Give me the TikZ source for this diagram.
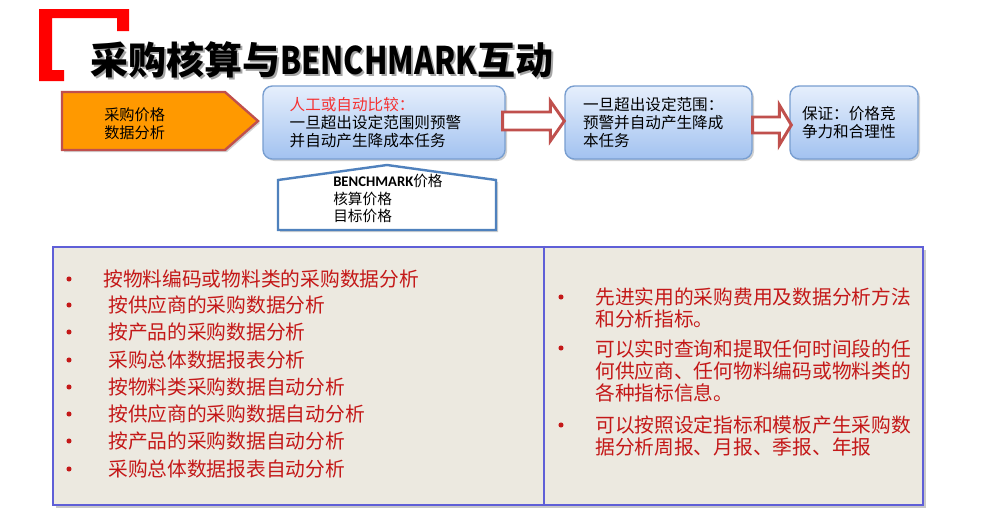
\documentclass[tikz,border=0pt]{standalone}
\usepackage{fontspec}
\usepackage{graphicx}
\setmainfont{Noto Sans CJK SC}
\newfontfamily\carlito{Carlito}
\usetikzlibrary{calc,shadows}
\definecolor{bracketred}{RGB}{255,0,0}
\definecolor{arrred}{RGB}{192,80,77}
\definecolor{orangefill}{RGB}{255,153,0}
\definecolor{boxtop}{RGB}{230,239,252}
\definecolor{boxbot}{RGB}{162,194,240}
\definecolor{boxline}{RGB}{120,158,208}
\definecolor{housline}{RGB}{79,129,189}
\definecolor{tblfill}{RGB}{236,233,224}
\definecolor{tblline}{RGB}{95,95,215}
\definecolor{listred}{RGB}{196,24,24}
\definecolor{labelred}{RGB}{245,50,50}
\newcommand{\titletext}{采购核算与\scalebox{0.8}[1]{BENCHMARK}互动}
\tikzset{
  x=0.75pt, y=-0.75pt,
  softshadow/.style={drop shadow={shadow xshift=1.5pt, shadow yshift=-1.5pt, opacity=0.3, fill=black!60}},
  bluebox/.style={draw=boxline, line width=1pt, rounded corners=7pt, top color=boxtop, bottom color=boxbot,
    minimum height=54.75pt, inner xsep=0pt, inner ysep=0pt, align=left, softshadow,
    font=\fontsize{11.7}{13.5}\selectfont},
  barrow/.style={draw=arrred, line width=2.2pt, fill=white, line join=miter},
  bulletdot/.style={circle, fill=listred, inner sep=0pt, minimum size=3.8pt},
  listtxt/.style={anchor=west, inner sep=0pt, align=left, text=listred, font=\fontsize{14.8}{16.5}\selectfont},
  titlefont/.style={anchor=west, inner sep=0pt, font=\fontsize{28.5}{30}\selectfont\bfseries},
}
\newcommand{\blockarr}[5]{%
  \draw[barrow] ($(#1)+(0,-#3)$) -- ($(#2)+(-#5,-#3)$) -- ($(#2)+(-#5,-#4)$) -- (#2)
    -- ($(#2)+(-#5,#4)$) -- ($(#2)+(-#5,#3)$) -- ($(#1)+(0,#3)$) -- cycle;}
\begin{document}
\begin{tikzpicture}
\useasboundingbox (0,0) rectangle (1000,518);
\fill[white] (0,0) rectangle (1000,518);
% red bracket
\fill[bracketred] (39,9) -- (129,9) -- (129,31) -- (117,31) -- (117,18) -- (52,18) -- (52,70) -- (64,70) -- (64,81) -- (39,81) -- cycle;
% title
\node[titlefont, text=black!35] (tshadow) at (92,62) {\titletext};
\node[titlefont] (title) at (90,60) {\titletext};
% orange pentagon
\draw[fill=orangefill, draw=arrred, line width=1.8pt, softshadow] (62,92) -- (225,92) -- (258,121) -- (225,150) -- (62,150) -- cycle;
\node[anchor=west, inner sep=0pt, align=left, font=\fontsize{11.4}{13.5}\selectfont] (orange) at (104,124) {采购价格\\数据分析};
% blue boxes
\node[bluebox, minimum width=181.5pt, text width=141.5pt] (b1) at (384,122.5)
  {\textcolor{labelred}{人工或自动比较：}\\一旦超出设定范围则预警\\并自动产生降成本任务};
\node[bluebox, minimum width=140.25pt, text width=113.25pt] (b2) at (658.5,122.5)
  {一旦超出设定范围：\\预警并自动产生降成\\本任务};
\node[bluebox, minimum width=96pt, text width=78pt] (b3) at (854,122.5)
  {保证：价格竞\\争力和合理性};
% block arrows
\blockarr{$(b1.east)+(-3,-1.5)$}{$(b2.west)+(0,-1.5)$}{9}{20}{14}
\blockarr{$(b2.east)+(0,2.5)$}{$(b3.west)+(2,2.5)$}{8}{20}{12}
% benchmark house
\draw[draw=housline, line width=1.8pt, fill=white, softshadow] (278,180) -- (387,165) -- (496,180) -- (496,230) -- (278,230) -- cycle;
\node[anchor=west, inner sep=0pt, align=left, font=\fontsize{11}{13.1}\selectfont] (bench) at (333,198.5)
  {{\carlito\bfseries BENCHMARK}价格\\核算价格\\目标价格};
% table
\node[draw=tblline, line width=1.6pt, fill=tblfill, minimum width=652.5pt, minimum height=193.5pt, inner sep=0pt,
  drop shadow={shadow xshift=2pt, shadow yshift=-2.5pt, opacity=0.35, fill=black!60}] (tbl) at (488,376) {};
\path (tbl.north west) ++(492,0) coordinate (dtop);
\draw[draw=tblline, line width=1.4pt] (dtop) -- (dtop |- tbl.south);
% left list
\foreach \y/\dx/\t [count=\i] in {
  279/0/按物料编码或物料类的采购数据分析,
  305/5/按供应商的采购数据分析,
  332/5/按产品的采购数据分析,
  360/5/采购总体数据报表分析,
  387/5/按物料类采购数据自动分析,
  414/5/按供应商的采购数据自动分析,
  441/5/按产品的采购数据自动分析,
  469/5/采购总体数据报表自动分析} {
  \node[bulletdot] (lb\i) at (69,\y) {};
  \node[listtxt] (lt\i) at (103+\dx,\y) {\t};
}
% right list
\node[bulletdot] (rb1) at (561,297) {};
\node[listtxt] (rt1) at (595,307.5) {先进实用的采购费用及数据分析方法\\和分析指标。};
\node[bulletdot] (rb2) at (561,348) {};
\node[listtxt] (rt2) at (595,370.5) {可以实时查询和提取任何时间段的任\\何供应商、任何物料编码或物料类的\\各种指标信息。};
\node[bulletdot] (rb3) at (561,425) {};
\node[listtxt] (rt3) at (595,436) {可以按照设定指标和模板产生采购数\\据分析周报、月报、季报、年报};
\end{tikzpicture}
\end{document}
